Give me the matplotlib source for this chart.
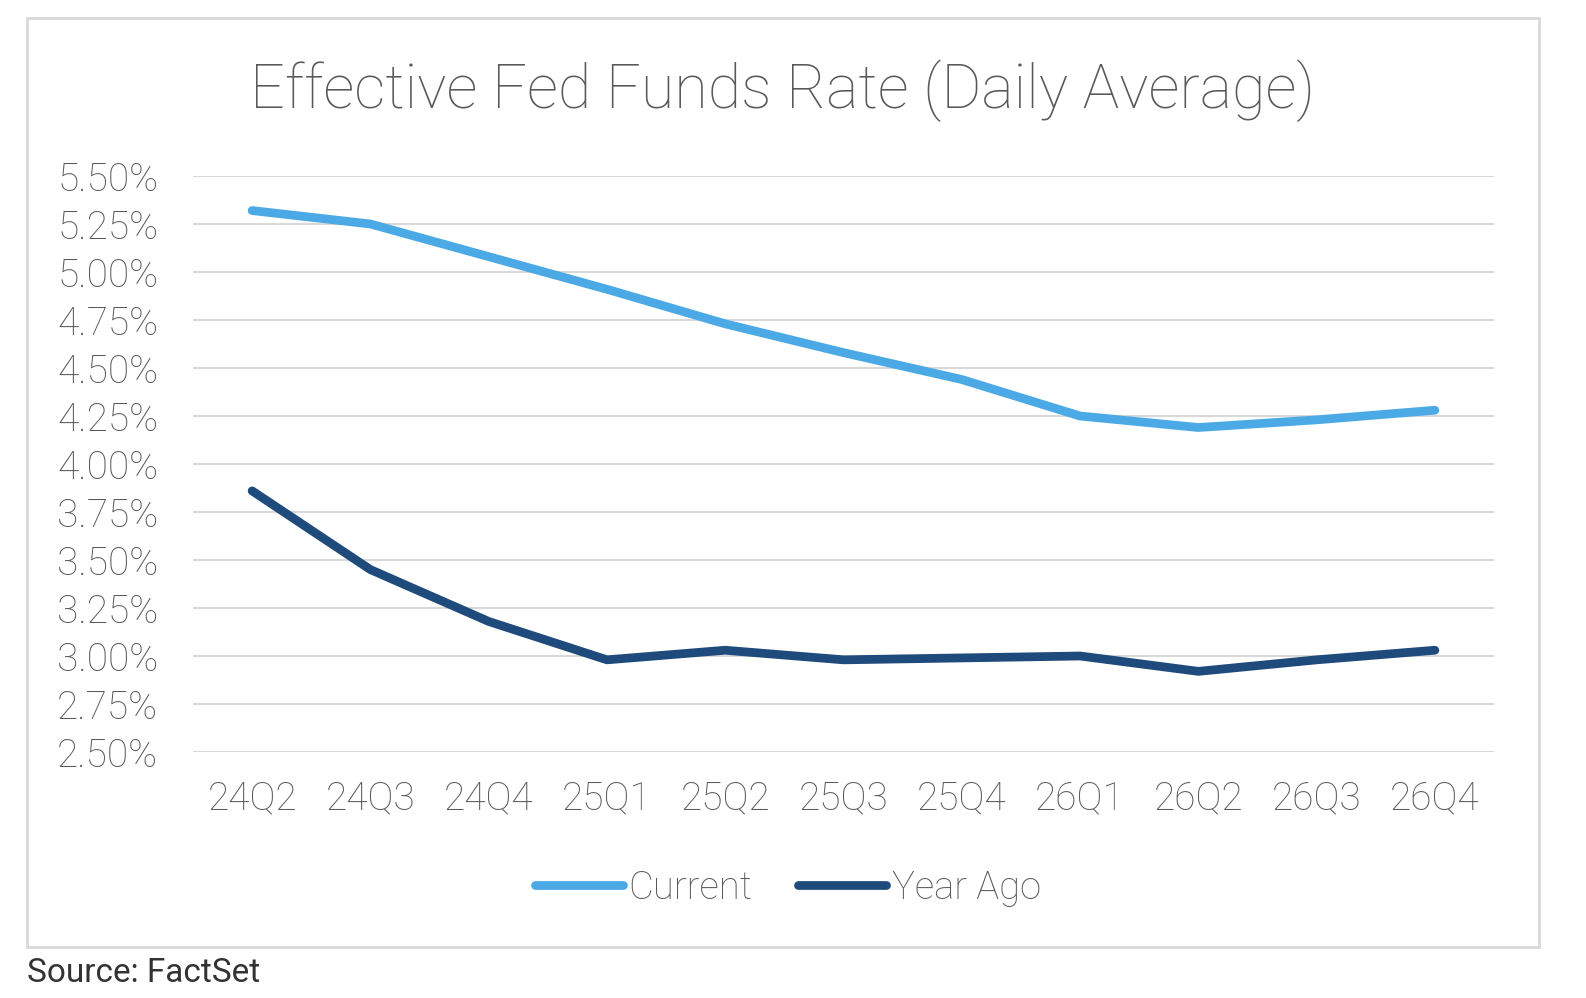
import matplotlib
matplotlib.use("Agg")
import matplotlib.pyplot as plt
from matplotlib.patches import Rectangle
from matplotlib.ticker import FuncFormatter

quarters = ["24Q2", "24Q3", "24Q4", "25Q1", "25Q2", "25Q3", "25Q4", "26Q1", "26Q2", "26Q3", "26Q4"]
current = [5.32, 5.25, 5.08, 4.91, 4.73, 4.58, 4.44, 4.25, 4.19, 4.23, 4.28]
year_ago = [3.86, 3.45, 3.18, 2.98, 3.03, 2.98, 2.99, 3.00, 2.92, 2.98, 3.03]
yticks = [2.50, 2.75, 3.00, 3.25, 3.50, 3.75, 4.00, 4.25, 4.50, 4.75, 5.00, 5.25, 5.50]

W, H = 1586, 998
fig = plt.figure(figsize=(W / 100, H / 100), dpi=100)
fig.patch.set_facecolor("white")

# outer frame
fig.patches.append(Rectangle((27 / W, 1 - 947 / H), (1539 - 27) / W, (947 - 18) / H,
                             transform=fig.transFigure, fill=False,
                             edgecolor="#D9D9D9", linewidth=2))

ax = fig.add_axes([193 / W, 1 - 752 / H, (1494 - 193) / W, (752 - 176) / H])
x = list(range(len(quarters)))
ax.plot(x, current, color="#4BA9E6", linewidth=6.3, solid_capstyle="round", solid_joinstyle="round", label="Current", zorder=3)
ax.plot(x, year_ago, color="#1F4A7C", linewidth=6.3, solid_capstyle="round", solid_joinstyle="round", label="Year Ago", zorder=3)

ax.set_xlim(-0.5, len(quarters) - 0.5)
ax.set_ylim(2.50, 5.50)
ax.set_yticks(yticks)
ax.yaxis.set_major_formatter(FuncFormatter(lambda v, p: f"{v:.2f}%"))
ax.set_xticks(x)
ax.set_xticklabels(quarters)
ax.grid(axis="y", color="#D9D9D9", linewidth=1.5, zorder=0)
ax.set_axisbelow(True)
for s in ax.spines.values():
    s.set_visible(False)
ax.tick_params(axis="both", length=0, labelcolor="#595959", labelsize=28)
ax.tick_params(axis="y", pad=25)
ax.tick_params(axis="x", pad=20)
for lab in ax.get_xticklabels() + ax.get_yticklabels():
    lab.set_fontfamily("Roboto")
    lab.set_fontweight("light")

fig.text(783 / W, 1 - 91 / H, "Effective Fed Funds Rate (Daily Average)", ha="center", va="center",
         fontsize=44, color="#595959", fontfamily="Roboto", fontweight="light")

leg = fig.legend(loc="center", bbox_to_anchor=(788 / W, 1 - 888 / H), ncol=2, frameon=False,
                 prop={"family": "Roboto", "weight": "light", "size": 27.5},
                 handlelength=2.3, handletextpad=0.15, columnspacing=1.2)
for t in leg.get_texts():
    t.set_color("#595959")

fig.text(27 / W, 1 - 973 / H, "Source: FactSet", ha="left", va="center",
         fontsize=24, color="#333333", fontfamily="Roboto")

fig.savefig("out.png", dpi=100, facecolor="white")
